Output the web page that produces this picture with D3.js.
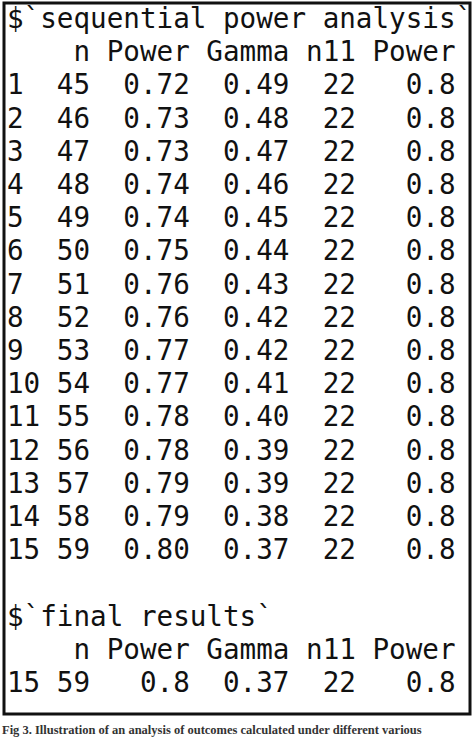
<!DOCTYPE html>
<html><head><meta charset="utf-8">
<script src="https://cdn.jsdelivr.net/npm/d3@7/dist/d3.min.js"></script>
<style>body{margin:0;background:#fff;overflow:hidden}</style>
</head><body>
<script>
const rowIds=[1,2,3,4,5,6,7,8,9,10,11,12,13,14,15];
const nVals=[45,46,47,48,49,50,51,52,53,54,55,56,57,58,59];
const powerVals=["0.72","0.73","0.73","0.74","0.74","0.75","0.76","0.76","0.77","0.77","0.78","0.78","0.79","0.79","0.80"];
const gammaVals=["0.49","0.48","0.47","0.46","0.45","0.44","0.43","0.42","0.42","0.41","0.40","0.39","0.39","0.38","0.37"];
const n11Vals=[22,22,22,22,22,22,22,22,22,22,22,22,22,22,22];
const power2Vals=["0.8","0.8","0.8","0.8","0.8","0.8","0.8","0.8","0.8","0.8","0.8","0.8","0.8","0.8","0.8"];
const headers=["n","Power","Gamma","n11","Power"];
const finalRow={id:15,n:59,power:"0.8",gamma:"0.37",n11:22,power2:"0.8"};
const caption="Fig 3. Illustration of an analysis of outcomes calculated under different various";

const W=474,H=737;
const pad=(s,w)=>String(s).padStart(w," ");
const padR=(s,w)=>String(s).padEnd(w," ");
const fmt=(id,n,p,g,k,p2)=>padR(id,2)+pad(n,3)+pad(p,6)+pad(g,6)+pad(k,4)+pad(p2,6);
const lines=["$`sequential power analysis`", fmt("",...headers)];
rowIds.forEach((id,i)=>lines.push(fmt(id,nVals[i],powerVals[i],gammaVals[i],n11Vals[i],power2Vals[i])));
lines.push("");
lines.push("$`final results`");
lines.push(fmt("",...headers));
lines.push(fmt(finalRow.id,finalRow.n,finalRow.power,finalRow.gamma,finalRow.n11,finalRow.power2));

const svg=d3.select("body").append("svg").attr("width",W).attr("height",H);
svg.append("rect").attr("x",4).attr("y",3).attr("width",466).attr("height",711)
  .attr("fill","none").attr("stroke","#111").attr("stroke-width",3);
const y=d3.scaleLinear().domain([0,1]).range([28,61.2]);
svg.selectAll("text.l").data(lines).join("text").attr("class","l")
  .attr("x",7).attr("y",(d,i)=>y(i))
  .attr("font-family","DejaVu Sans Mono").attr("font-size",27.6)
  .attr("fill","#111").style("white-space","pre").text(d=>d);
svg.append("text").attr("x",2).attr("y",734).attr("font-family","Liberation Serif")
  .attr("font-size",12.5).attr("font-weight","bold").attr("fill","#333").text(caption);
</script>
</body></html>
